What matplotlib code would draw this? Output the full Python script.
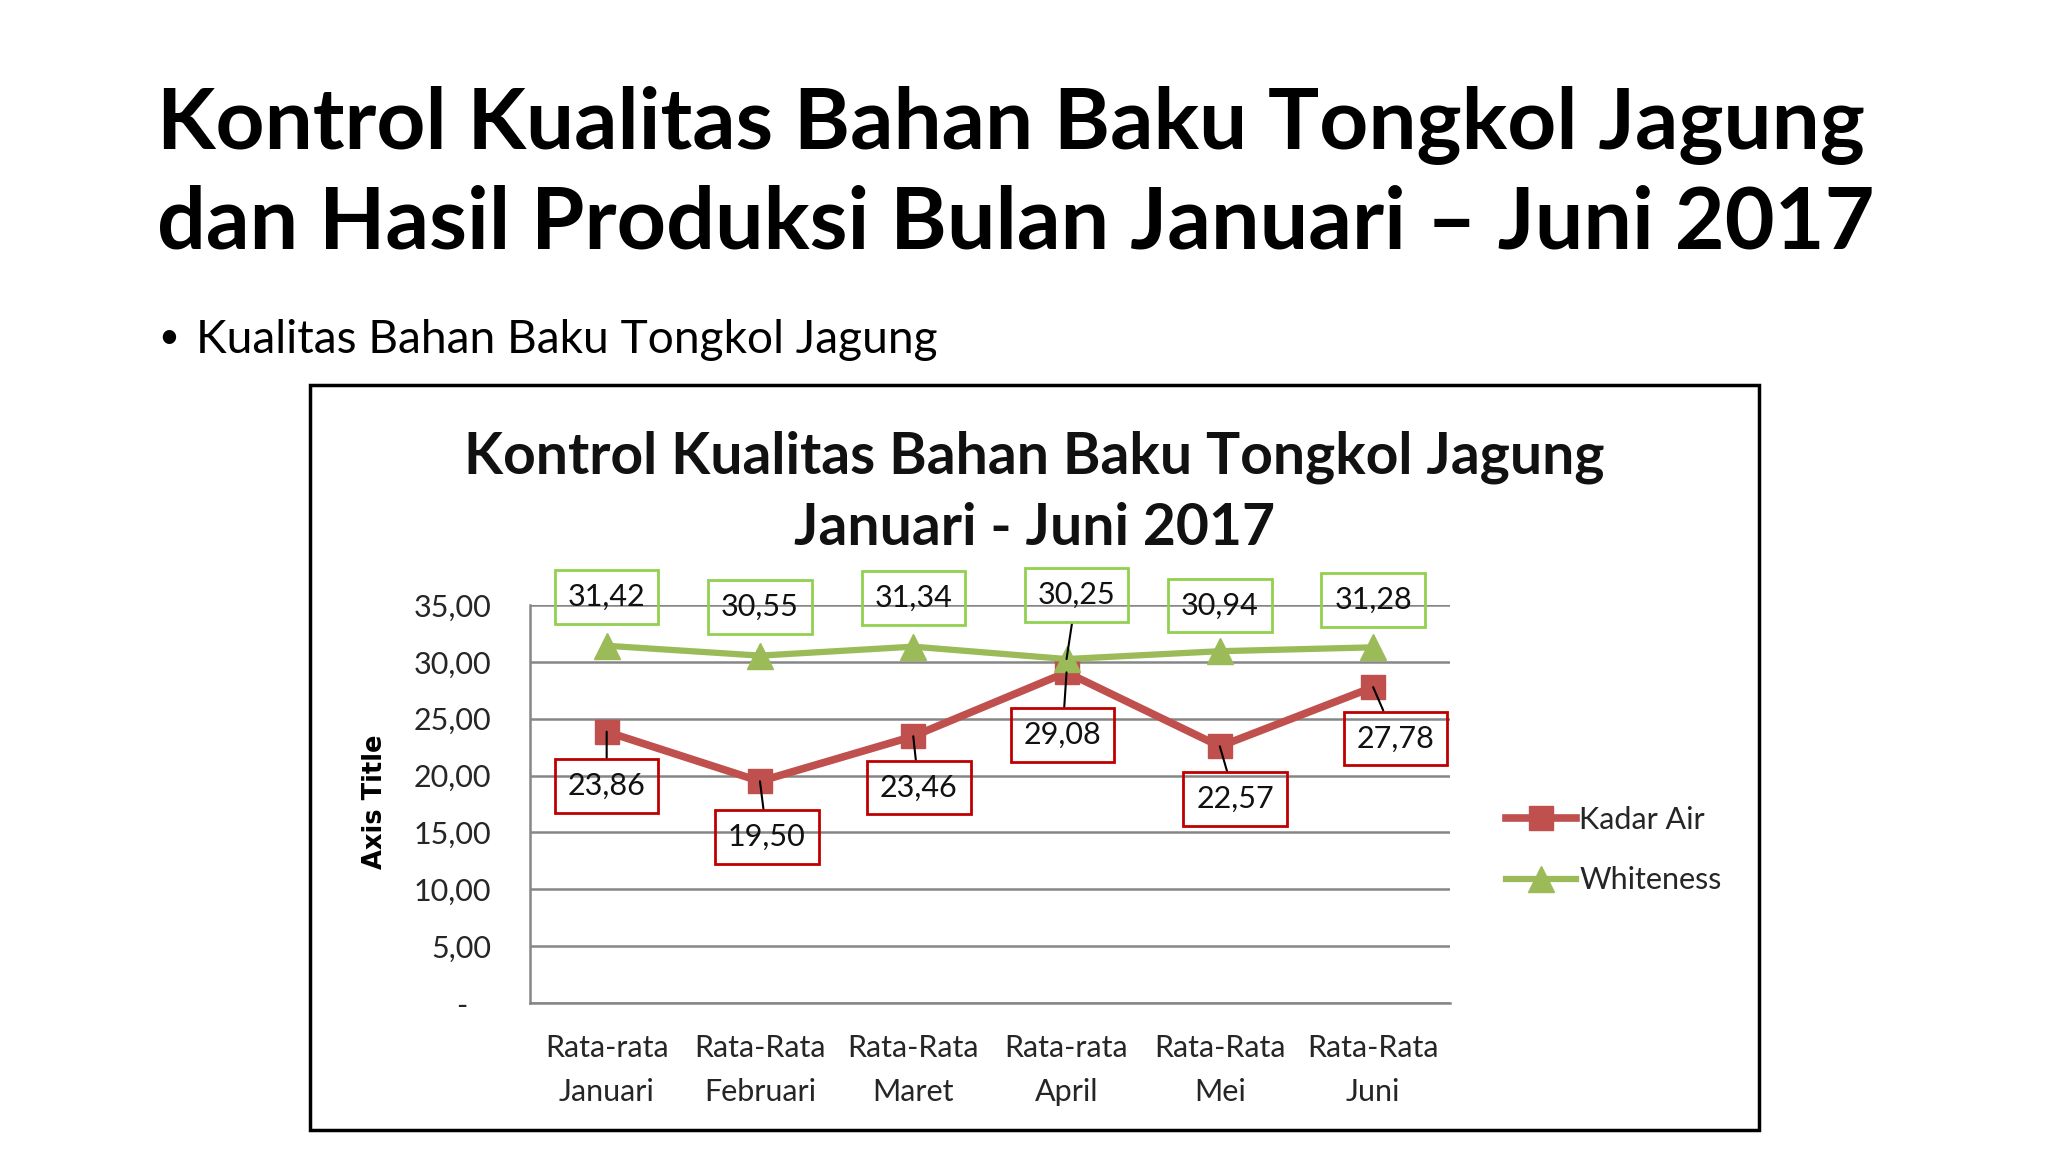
import matplotlib

matplotlib.use("Agg")
import matplotlib.pyplot as plt
import numpy as np
from matplotlib.patches import Rectangle

# data
months = ["Rata-rata\nJanuari", "Rata-Rata\nFebruari", "Rata-Rata\nMaret",
          "Rata-rata\nApril", "Rata-Rata\nMei", "Rata-Rata\nJuni"]
kadar_air = [23.86, 19.50, 23.46, 29.08, 22.57, 27.78]
whiteness = [31.42, 30.55, 31.34, 30.25, 30.94, 31.28]
y_ticks = [0, 5, 10, 15, 20, 25, 30, 35]

# label box offsets (points) and which ones get a leader line
kadar_offsets = [(0, -39), (5, -40), (4, -37), (-3, -45), (11, -38), (16, -37)]
white_offsets = [(0, 35), (0, 35), (0, 35), (7, 46), (0, 33), (0, 34)]
white_leader = [False, False, False, True, False, False]

RED = "#C0504D"
GREEN = "#9BBB59"
GRID = "#868686"
FONT = "Lato"

plt.rcParams["font.family"] = [FONT, "DejaVu Sans"]


def fmt(value):
    if value == 0:
        return "-   "
    return f"{value:.2f}".replace(".", ",")


fig = plt.figure(figsize=(20.48, 11.52), dpi=100)
fig.patch.set_facecolor("white")

# slide title and bullet
fig.text(0.0767, 0.8715, "Kontrol Kualitas Bahan Baku Tongkol Jagung",
         fontsize=61.5, fontweight="bold", va="baseline", ha="left")
fig.text(0.0767, 0.7847, "dan Hasil Produksi Bulan Januari \u2013 Juni 2017",
         fontsize=62, fontweight="bold", va="baseline", ha="left")
fig.text(0.0772, 0.6975, "\u2022", fontsize=26, va="baseline", ha="left")
fig.text(0.0957, 0.6936, "Kualitas Bahan Baku Tongkol Jagung",
         fontsize=33.2, va="baseline", ha="left")

# chart frame
fig.add_artist(Rectangle((0.1514, 0.0191), 0.7075, 0.6467, transform=fig.transFigure,
                         fill=False, edgecolor="black", linewidth=2.5))

fig.text(0.505, 0.5894, "Kontrol Kualitas Bahan Baku Tongkol Jagung",
         fontsize=41, fontweight="bold", ha="center", va="baseline", color="#111111")
fig.text(0.505, 0.527, "Januari - Juni 2017",
         fontsize=41, fontweight="bold", ha="center", va="baseline", color="#111111")

ax = fig.add_axes([0.2588, 0.1293, 0.4491, 0.3455])
x = np.arange(len(months)) + 0.5

ax.plot(x, kadar_air, color=RED, linewidth=5.5, marker="s", markersize=17, label="Kadar Air")
ax.plot(x, whiteness, color=GREEN, linewidth=4.5, marker="^", markersize=19, label="Whiteness")

for xi, value, (dx, dy) in zip(x, kadar_air, kadar_offsets):
    ax.annotate(fmt(value), xy=(xi, value), xytext=(dx, dy), textcoords="offset points",
                ha="center", va="center", fontsize=22, color="#111111",
                bbox=dict(boxstyle="square,pad=0.42", fc="none", ec="#C00000", lw=2),
                arrowprops=dict(arrowstyle="-", color="black", lw=1.5, shrinkA=0, shrinkB=0))

for xi, value, (dx, dy), leader in zip(x, whiteness, white_offsets, white_leader):
    arrow = dict(arrowstyle="-", color="black", lw=1.5, shrinkA=0, shrinkB=0) if leader else None
    ax.annotate(fmt(value), xy=(xi, value), xytext=(dx, dy), textcoords="offset points",
                ha="center", va="center", fontsize=22, color="#111111",
                bbox=dict(boxstyle="square,pad=0.42", fc="none", ec="#92D050", lw=2),
                arrowprops=arrow)

ax.set_xlim(0, len(months))
ax.set_ylim(0, 35)
ax.set_yticks(y_ticks)
ax.set_yticklabels([fmt(v) for v in y_ticks])
ax.set_xticks(x)
ax.set_xticklabels(months, linespacing=1.7)
ax.tick_params(axis="y", length=0, pad=28, labelsize=22, labelcolor="#262626")
ax.tick_params(axis="x", length=0, pad=22, labelsize=22, labelcolor="#262626")

ax.yaxis.grid(True, color=GRID, linewidth=1.8)
ax.set_axisbelow(True)
for side in ["top", "right"]:
    ax.spines[side].set_visible(False)
for side in ["left", "bottom"]:
    ax.spines[side].set_color(GRID)
    ax.spines[side].set_linewidth(1.8)
ax.patch.set_alpha(0)

fig.text(0.183, 0.3038, "Axis Title", rotation=90, fontsize=18.5, fontweight="bold",
         family="DejaVu Sans", ha="center", va="center")

fig.legend(loc="center left", bbox_to_anchor=(0.722, 0.262), frameon=False,
           fontsize=22, handlelength=2.3, handletextpad=0.1, labelspacing=1.05,
           labelcolor="#262626")

fig.savefig("out.png", dpi=100)
plt.close(fig)
